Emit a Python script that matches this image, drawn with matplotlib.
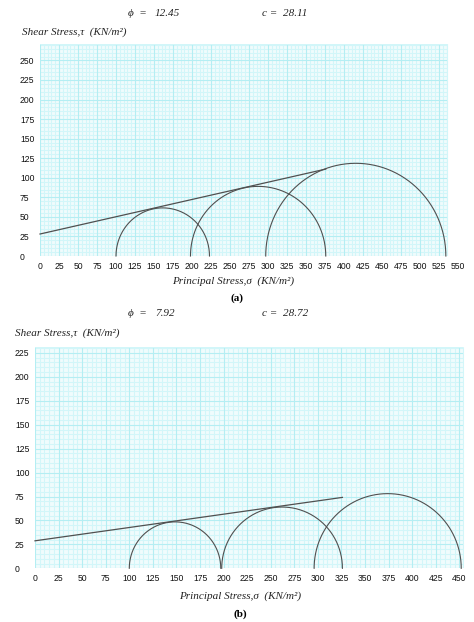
import numpy as np
import matplotlib
matplotlib.use("Agg")
import matplotlib.pyplot as plt

# ---------------- data ----------------
# Panel (a)
phi_a = 12.45
c_a = 28.11
sigma3_a = [100, 198, 297]
sigma1_a = [223, 376, 534]
xticks_a = list(range(0, 551, 25))
yticks_a = list(range(0, 251, 25))

# Panel (b)
phi_b = 7.92
c_b = 28.72
sigma3_b = [100, 198, 296]
sigma1_b = [197, 326, 452]
xticks_b = list(range(0, 451, 25))
yticks_b = list(range(0, 226, 25))

W, H = 474, 622
fig = plt.figure(figsize=(W / 100, H / 100), dpi=100)

SERIF = ["Liberation Serif", "DejaVu Serif"]
SANS = ["Liberation Sans", "DejaVu Sans"]
WASH = "#effcfd"
MINOR = "#d2f6f9"
MAJOR = "#b4eef3"
INK = "#505050"


def px_axes(left, right, bottom, top):
    return fig.add_axes([left / W, 1 - bottom / H, (right - left) / W, (bottom - top) / H])


def draw(ax, phi, c, s3, s1, xticks, yticks, xmax, ymax, gx, gy):
    ax.set_xlim(0, xmax)
    ax.set_ylim(0, ymax)
    ax.set_facecolor("none")
    for sp in ax.spines.values():
        sp.set_visible(False)
    # background grid
    ax.fill_between([0, gx], 0, gy, color=WASH, lw=0, zorder=0)
    vx = np.arange(0, gx + 0.01, 5)
    hy = np.arange(0, gy + 0.01, 5)
    gkw = dict(lw=0.75, zorder=0.5)
    ax.vlines(vx, 0, gy, colors=MINOR, **gkw)
    ax.hlines(hy, 0, gx, colors=MINOR, **gkw)
    ax.vlines(vx[::5], 0, gy, colors=MAJOR, **gkw)
    ax.hlines(hy[::5], 0, gx, colors=MAJOR, **gkw)
    ax.vlines([gx], 0, gy, colors=MINOR, **gkw)
    ax.hlines([gy], 0, gx, colors=MINOR, **gkw)
    # Mohr circles
    t = np.linspace(0, np.pi, 300)
    for a, b in zip(s3, s1):
        cen = (a + b) / 2.0
        r = (b - a) / 2.0
        ax.plot(cen + r * np.cos(t), r * np.sin(t), color=INK, lw=0.8, clip_on=False, zorder=3)
    # failure envelope
    xs = np.array([0.0, s1[1]])
    ax.plot(xs, c + xs * np.tan(np.radians(phi)), color=INK, lw=0.9, clip_on=False, zorder=3)
    # ticks
    ax.set_xticks(xticks)
    ax.set_xticklabels([str(v) for v in xticks], fontfamily=SANS, fontsize=6.2, color="#111111")
    ax.set_yticks(yticks)
    ax.set_yticklabels([str(v) for v in yticks], fontfamily=SANS, fontsize=6.2, color="#111111",
                       ha="left")
    ax.tick_params(axis="x", length=0, pad=4.0)
    ax.tick_params(axis="y", length=0, pad=14.4)


def ftext(x, y, s, **kw):
    fig.text(x / W, 1 - y / H, s, **kw)


# Panel (a)
ax_a = px_axes(40, 40 + 550 * 0.76, 256, 44)
draw(ax_a, phi_a, c_a, sigma3_a, sigma1_a, xticks_a, yticks_a, 550, 271, 535, 271)
# Panel (b)
ax_b = px_axes(35, 35 + 460 * 0.943, 568.3, 346.7)
draw(ax_b, phi_b, c_b, sigma3_b, sigma1_b, xticks_b, yticks_b, 460, 231.5, 454, 231.5)

tkw = dict(fontfamily=SERIF, style="italic", fontsize=8, color="#222222", va="center")
hkw = {k: v for k, v in tkw.items() if k != "va"}
# header (a)
ftext(128, 13, "ϕ  =", **tkw)
ftext(155, 13, f"{phi_a:.2f}", **tkw)
ftext(262, 13, "c =", **tkw)
ftext(283, 13, f"{c_a:.2f}", **tkw)
ftext(22, 32, "Shear Stress,τ  (KN/m²)", **tkw)
ftext(233, 281.5, "Principal Stress,σ  (KN/m²)", ha="center", va="center", **hkw)
ftext(237, 298, "(a)", fontfamily=SERIF, fontweight="bold", fontsize=8, ha="center", va="center")

# header (b)
ftext(128, 313, "ϕ  =", **tkw)
ftext(155, 313, f"{phi_b:.2f}", **tkw)
ftext(262, 313, "c =", **tkw)
ftext(283, 313, f"{c_b:.2f}", **tkw)
ftext(15, 333, "Shear Stress,τ  (KN/m²)", **tkw)
ftext(240, 596, "Principal Stress,σ  (KN/m²)", ha="center", va="center", **hkw)
ftext(240, 614, "(b)", fontfamily=SERIF, fontweight="bold", fontsize=8, ha="center", va="center")

fig.savefig("out.png", dpi=100)
